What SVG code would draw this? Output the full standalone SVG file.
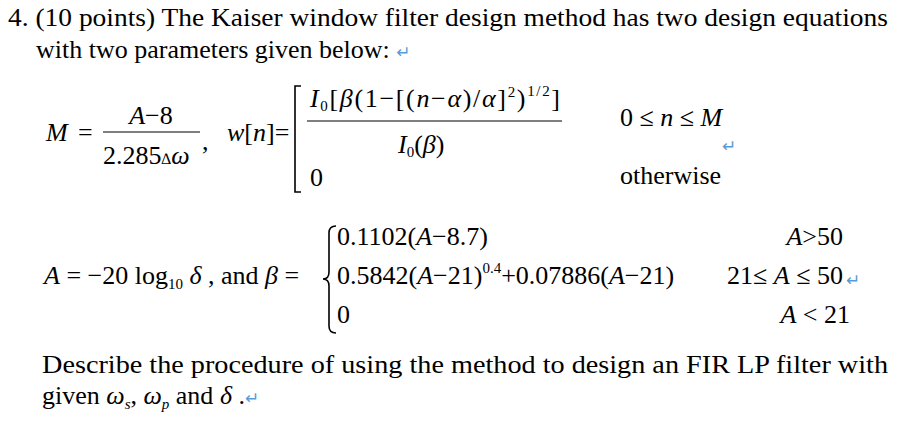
<svg xmlns="http://www.w3.org/2000/svg" width="907" height="422" viewBox="0 0 907 422">
<style>
text{font-family:"Liberation Serif","Times New Roman",serif;font-size:26px;fill:#000}
.i{font-style:italic}
.s{font-size:15px}
.r{fill:#5b9bd5;font-family:"DejaVu Sans",sans-serif;font-size:17px}
.br{fill:none;stroke:#000;stroke-width:1.6}
</style>
<rect width="907" height="422" fill="#fff"/>
<text x="8" y="26" textLength="880" lengthAdjust="spacingAndGlyphs">4.  (10 points) The Kaiser window filter design method has two design equations</text>
<text x="36" y="58">with two parameters given below: <tspan class="r">↵</tspan></text>

<text x="46" y="141" class="i">M</text><text x="78" y="141">=</text>
<text x="151" y="124" text-anchor="middle"><tspan class="i">A</tspan>−8</text>
<line x1="103" y1="132" x2="200" y2="132" stroke="#000" stroke-width="1.2"/>
<text x="103" y="164">2.285<tspan font-size="16">∆</tspan><tspan class="i">ω</tspan></text>
<text x="202" y="150">,</text>
<text x="227" y="141"><tspan class="i">w</tspan>[<tspan class="i">n</tspan>]=</text>
<path class="br" d="M301,86 H295 V192 H301"/>
<text x="310" y="107" textLength="250" lengthAdjust="spacing"><tspan class="i">I</tspan><tspan class="s" dy="4">0</tspan><tspan dy="-4">[</tspan><tspan class="i">β</tspan>(1−[(<tspan class="i">n</tspan>−<tspan class="i">α</tspan>)/<tspan class="i">α</tspan>]<tspan class="s" dy="-10">2</tspan><tspan dy="10">)</tspan><tspan class="s" dy="-11">1/2</tspan><tspan dy="11">]</tspan></text>
<line x1="307" y1="121" x2="562" y2="121" stroke="#000" stroke-width="1.2"/>
<text x="398" y="153"><tspan class="i">I</tspan><tspan class="s" dy="4">0</tspan><tspan dy="-4">(</tspan><tspan class="i">β</tspan>)</text>
<text x="310" y="186">0</text>
<text x="620" y="126">0 ≤ <tspan class="i">n</tspan> ≤ <tspan class="i">M</tspan></text>
<text x="722" y="152" class="r">↵</text>
<text x="620" y="184">otherwise</text>

<text x="44" y="284"><tspan class="i">A</tspan> = −20 log<tspan class="s" dy="5">10</tspan><tspan dy="-5"> </tspan><tspan class="i">δ</tspan> , and  <tspan class="i">β</tspan> =</text>
<path class="br" d="M336,226 Q329,226 329,233 V272 Q329,279 323,279 Q329,279 329,286 V326 Q329,333 336,333"/>
<text x="337" y="245">0.1102(<tspan class="i">A</tspan>−8.7)</text>
<text x="843" y="245" text-anchor="end"><tspan class="i">A</tspan>&gt;50</text>
<text x="337" y="284">0.5842(<tspan class="i">A</tspan>−21)<tspan class="s" dy="-11">0.4</tspan><tspan dy="11">+0.07886(</tspan><tspan class="i">A</tspan>−21)</text>
<text x="843" y="284" text-anchor="end">21≤ <tspan class="i">A</tspan> ≤ 50</text>
<text x="846" y="286" class="r">↵</text>
<text x="337" y="323">0</text>
<text x="850" y="323" text-anchor="end"><tspan class="i">A</tspan> &lt; 21</text>

<text x="42" y="373" textLength="846" lengthAdjust="spacingAndGlyphs">Describe the procedure of using the method to design an FIR LP filter with</text>
<text x="42" y="404">given  <tspan class="i">ω</tspan><tspan class="s i" dy="5">s</tspan><tspan dy="-5">,  </tspan><tspan class="i">ω</tspan><tspan class="s i" dy="5">p</tspan><tspan dy="-5"> and </tspan><tspan class="i">δ</tspan> .<tspan class="r">↵</tspan></text>
</svg>
